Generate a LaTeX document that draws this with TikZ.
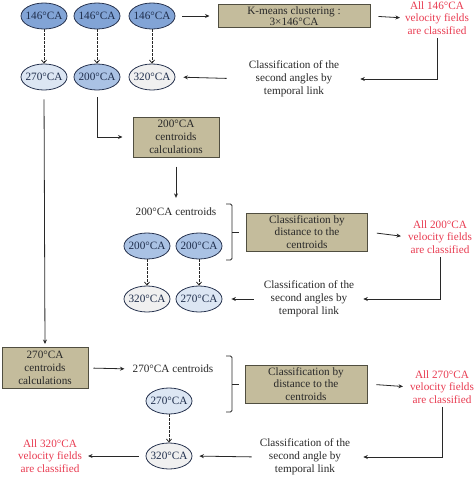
\documentclass[tikz,border=0pt]{standalone}
\usepackage{fontspec}
\setmainfont{Liberation Serif}
\usetikzlibrary{arrows.meta,positioning,shapes.geometric}
\definecolor{ellline}{RGB}{40,52,80}
\definecolor{elltext}{RGB}{30,45,75}
\definecolor{blueA}{RGB}{130,164,214}
\definecolor{blueB}{RGB}{170,194,228}
\definecolor{blueC}{RGB}{220,230,243}
\definecolor{grayC}{RGB}{240,240,240}
\definecolor{boxfill}{RGB}{196,188,156}
\definecolor{boxline}{RGB}{80,78,64}
\definecolor{redtxt}{RGB}{232,58,80}
\definecolor{txt}{RGB}{40,40,40}
\begin{document}
\begin{tikzpicture}[x=1pt,y=-1pt,
  every node/.style={font=\fontsize{11.2}{12.8}\selectfont, text=txt},
  ell/.style={ellipse, draw=ellline, line width=0.8pt, minimum width=46pt, minimum height=26pt, inner xsep=-2.5pt, inner ysep=0pt, text=elltext},
  procbox/.style={rectangle, draw=boxline, line width=1pt, fill=boxfill, inner sep=0pt, align=center, text=txt},
  plain/.style={align=center, inner sep=0pt},
  redlab/.style={align=center, inner sep=0pt, text=redtxt},
  arr/.style={draw=txt, line width=0.8pt, -{Stealth[length=4.5pt,width=4pt]}},
  darr/.style={draw=txt, line width=0.8pt, dashed, dash pattern=on 2.5pt off 1.5pt, -{Straight Barb[length=3pt,width=5pt]}},
  brk/.style={draw=txt, line width=0.8pt, rounded corners=1.5pt}
]
\useasboundingbox (0,0) rectangle (474,477);
% top row
\node[ell, fill=blueA] (a1) at (44,16) {146°CA};
\node[ell, fill=blueA] (a2) at (97,16) {146°CA};
\node[ell, fill=blueA] (a3) at (152,16) {146°CA};
% second row
\node[ell, fill=blueC] (b1) at (44,77) {270°CA};
\node[ell, fill=blueB] (b2) at (97,77) {200°CA};
\node[ell, fill=grayC] (b3) at (152,77) {320°CA};
\draw[darr] (a1.south) -- (b1.north);
\draw[darr] (a2.south) -- (b2.north);
\draw[darr] (a3.south) -- (b3.north);
% k-means
\node[procbox, minimum width=152pt, minimum height=23pt] (km) at (294,16) {K-means clustering :\\[-1.5pt]3×146°CA};
\node[redlab] (r1) at (437,18) {All 146°CA\\velocity fields\\are classified};
\draw[arr, shorten <=7pt, shorten >=8pt] (a3.east) -- (km.west);
\draw[arr, shorten <=8pt, shorten >=5pt] (km.east) -- (r1.west);
\node[plain] (c1) at (294,79) {Classification of the\\second angles by\\temporal link};
\draw[arr, shorten <=3pt, shorten >=21pt] (r1.south) |- (c1.east);
\draw[arr, shorten <=22pt, shorten >=8pt] (c1.west) -- (b3.east);
% 200 centroids calc
\node[procbox, minimum width=86pt, minimum height=40pt] (d1) at (176,137) {200°CA\\centroids\\calculations};
\draw[arr, shorten <=7pt, shorten >=10pt] (b2.south) |- (d1.west);
\node[plain] (f1) at (176,212) {200°CA centroids};
\draw[arr, shorten <=9pt, shorten >=10pt] (d1.south) -- (f1.north);
% section 2 ellipses
\node[ell, fill=blueB] (g1) at (147,246) {200°CA};
\node[ell, fill=blueB] (g2) at (199,246) {200°CA};
\node[ell, fill=grayC] (h1) at (147,299) {320°CA};
\node[ell, fill=blueC] (h2) at (199,299) {270°CA};
\draw[darr] (g1.south) -- (h1.north);
\draw[darr] (g2.south) -- (h2.north);
% bracket 1
\coordinate (k1t) at (226,204);
\coordinate (k1b) at (226,260);
\coordinate (k1m) at (239,232);
\draw[brk] (k1t) -- (232,204) -- (232,260) -- (k1b);
\draw[brk] (232,232) -- (k1m);
\node[procbox, minimum width=121pt, minimum height=38pt] (j1) at (307,232) {Classification by\\distance to the\\centroids};
\node[redlab] (r2) at (440,237) {All 200°CA\\velocity fields\\are classified};
\draw[arr, shorten <=9pt, shorten >=7pt] (j1.east) -- (r2.west);
\node[plain] (c2) at (309,299) {Classification of the\\second angles by\\temporal link};
\draw[arr, shorten <=3pt, shorten >=9pt] (r2.south) |- (c2.east);
\draw[arr, shorten <=10pt, shorten >=9pt] (c2.west) -- (h2.east);
% 270 centroids calc
\node[procbox, minimum width=86pt, minimum height=41pt] (e1) at (45,368) {270°CA\\centroids\\calculations};
\draw[arr, shorten <=9pt, shorten >=3pt] (b1.south) -- (e1.north);
\node[plain] (f2) at (173,369) {270°CA centroids};
\draw[arr, shorten <=5pt, shorten >=8pt] (e1.east) -- (f2.west);
\node[ell, fill=blueC] (l1) at (169,401) {270°CA};
\node[ell, fill=grayC] (m1) at (169,456) {320°CA};
\draw[darr] (l1.south) -- (m1.north);
% bracket 2
\coordinate (k2t) at (226,356);
\coordinate (k2b) at (226,412);
\coordinate (k2m) at (239,384);
\draw[brk] (k2t) -- (232,356) -- (232,412) -- (k2b);
\draw[brk] (232,384) -- (k2m);
\node[procbox, minimum width=122pt, minimum height=38pt] (j2) at (306,384) {Classification by\\distance to the\\centroids};
\node[redlab] (r3) at (442,387) {All 270°CA\\velocity fields\\are classified};
\draw[arr, shorten <=9pt, shorten >=7pt] (j2.east) -- (r3.west);
\node[plain] (c3) at (305,457) {Classification of the\\second angle by\\temporal link};
\draw[arr, shorten <=3pt, shorten >=13pt] (r3.south) |- (c3.east);
\draw[arr, shorten <=8pt, shorten >=7pt] (c3.west) -- (m1.east);
\node[redlab] (r4) at (50,456) {All 320°CA\\velocity fields\\are classified};
\draw[arr, shorten <=7pt, shorten >=6pt] (m1.west) -- (r4.east);
\end{tikzpicture}
\end{document}
